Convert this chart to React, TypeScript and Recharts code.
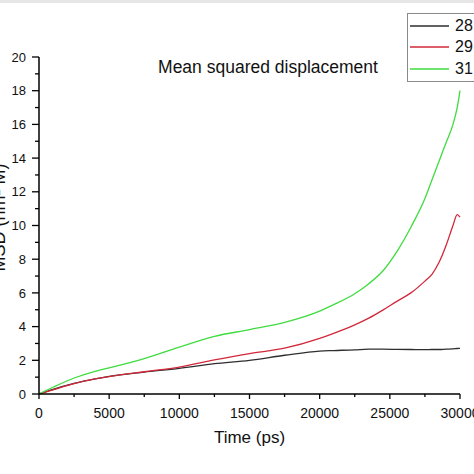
import React from "react";
import { LineChart, Line, XAxis, YAxis, Legend } from "recharts";

// simulation time (ps) and MSD for the three runs
const timePs = [
  0, 1000, 2500, 4000, 5000, 7500, 10000, 12500, 15000, 17500, 20000, 21000,
  22500, 23500, 24500, 25500, 26500, 27500, 28000, 28500, 29000, 29500, 29800,
  30000,
];
const msd28 = [
  0, 0.28, 0.63, 0.9, 1.05, 1.3, 1.52, 1.8, 2.0, 2.3, 2.55, 2.58, 2.62, 2.66,
  2.66, 2.65, 2.64, 2.63, 2.64, 2.64, 2.66, 2.68, 2.7, 2.71,
];
const msd29 = [
  0, 0.25, 0.62, 0.9, 1.03, 1.32, 1.6, 2.02, 2.4, 2.72, 3.3, 3.6, 4.1, 4.5,
  4.98, 5.5, 6.0, 6.7, 7.1, 7.8, 8.8, 10.0, 10.65, 10.5,
];
const msd31 = [
  0, 0.4, 0.95, 1.35, 1.55, 2.1, 2.78, 3.42, 3.82, 4.25, 4.92, 5.3, 5.95, 6.55,
  7.3, 8.45, 9.9, 11.6, 12.7, 13.8, 14.9, 16.0, 17.0, 18.0,
];

const xTicks = [
  0, 2500, 5000, 7500, 10000, 12500, 15000, 17500, 20000, 22500, 25000, 27500,
  30000,
];
const yTicks = [
  0, 1, 2, 3, 4, 5, 6, 7, 8, 9, 10, 11, 12, 13, 14, 15, 16, 17, 18, 19, 20,
];

const data = timePs.map((t, i) => ({
  t,
  s28: msd28[i],
  s29: msd29[i],
  s31: msd31[i],
}));

const X_TICK_SIZE = 5;
const X_TICK_MARGIN = 9;
const Y_TICK_SIZE = 7;
const Y_TICK_MARGIN = 6;

const XTick = (props: any) => {
  const { x, y, payload } = props;
  const major = payload.value % 5000 === 0;
  const axisY = y - X_TICK_SIZE - X_TICK_MARGIN;
  return (
    <g>
      <line x1={x} x2={x} y1={axisY} y2={axisY + (major ? 5 : 3)} stroke="#000" strokeWidth={1.3} />
      {major && (
        <text x={x} y={y} dy="0.71em" textAnchor="middle" fontSize={14} fill="#111">
          {payload.value}
        </text>
      )}
    </g>
  );
};

const YTick = (props: any) => {
  const { x, y, payload } = props;
  const major = payload.value % 2 === 0;
  const axisX = x + Y_TICK_SIZE + Y_TICK_MARGIN;
  return (
    <g>
      <line x1={axisX} x2={axisX - (major ? 7 : 4)} y1={y} y2={y} stroke="#000" strokeWidth={1.3} />
      {major && (
        <text x={x} y={y} dy="0.355em" textAnchor="end" fontSize={13} fill="#111">
          {payload.value}
        </text>
      )}
    </g>
  );
};

const YLabel = ({ viewBox }: any) => {
  const cx = 5;
  const cy = viewBox.y + viewBox.height / 2 - 8;
  return (
    <text x={cx} y={cy} transform={`rotate(-90 ${cx} ${cy})`} textAnchor="middle" fontSize={18} fill="#111">
      MSD (nm² M)
    </text>
  );
};

const LegendBox = ({ payload }: any) => (
  <div
    style={{
      border: "1px solid #8a8a8a",
      background: "#fff",
      width: 90,
      paddingTop: 1,
      paddingBottom: 1,
    }}
  >
    {(payload || []).map((p: any) => (
      <div key={p.value} style={{ display: "flex", alignItems: "center", height: 21.5 }}>
        <svg width={42} height={4} style={{ marginLeft: 2 }}>
          <line x1={0} x2={39} y1={2} y2={2} stroke={p.color} strokeWidth={1.3} />
        </svg>
        <span style={{ fontSize: 16, marginLeft: 3, color: "#111", lineHeight: "16px" }}>{p.value}</span>
      </div>
    ))}
  </div>
);

export default function App() {
  return (
    <div
      style={{
        position: "absolute",
        left: 0,
        top: 0,
        width: 474,
        height: 474,
        overflow: "hidden",
        background: "#fff",
        fontFamily: "'Liberation Sans', Arial, sans-serif",
      }}
    >
      <div style={{ position: "absolute", left: 0, top: 0, width: 474, height: 3, background: "#e6e6e6", zIndex: 2 }} />
      <LineChart width={474} height={474} data={data} margin={{ top: 57, right: 14, bottom: 0, left: 0 }}>
        <XAxis
          dataKey="t"
          type="number"
          domain={[0, 30000]}
          ticks={xTicks}
          interval={0}
          tickSize={X_TICK_SIZE}
          tickMargin={X_TICK_MARGIN}
          tickLine={false}
          tick={<XTick />}
          axisLine={{ stroke: "#000", strokeWidth: 1.5 }}
          height={80}
          label={{ value: "Time (ps)", position: "insideTop", offset: 37, fontSize: 17, fill: "#111" }}
        />
        <YAxis
          type="number"
          domain={[0, 20]}
          ticks={yTicks}
          interval={0}
          tickSize={Y_TICK_SIZE}
          tickMargin={Y_TICK_MARGIN}
          tickLine={false}
          tick={<YTick />}
          axisLine={{ stroke: "#000", strokeWidth: 1.5 }}
          width={39}
          label={<YLabel />}
        />
        <Legend
          layout="vertical"
          align="center"
          verticalAlign="middle"
          wrapperStyle={{ position: "absolute", left: 407, top: 13, width: 90 }}
          content={<LegendBox />}
        />
        <Line type="monotone" dataKey="s28" name="28" stroke="#2e2e2e" strokeWidth={1.3} dot={false} isAnimationActive={false} />
        <Line type="monotone" dataKey="s29" name="29" stroke="#d1283a" strokeWidth={1.3} dot={false} isAnimationActive={false} />
        <Line type="monotone" dataKey="s31" name="31" stroke="#3fdc3f" strokeWidth={1.3} dot={false} isAnimationActive={false} />
      </LineChart>
      <svg
        width={474}
        height={474}
        style={{ position: "absolute", left: 0, top: 0, pointerEvents: "none" }}
      >
        <text x={268} y={73} textAnchor="middle" fontSize={17.5} fill="#111">
          Mean squared displacement
        </text>
      </svg>
    </div>
  );
}
